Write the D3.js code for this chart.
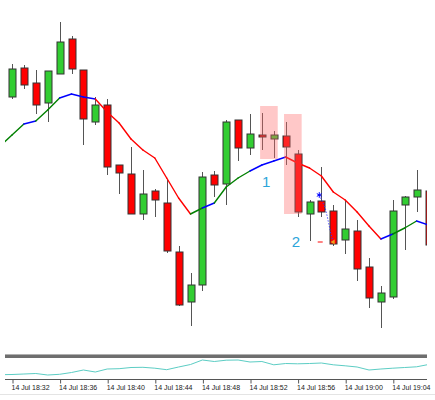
<!DOCTYPE html>
<html><head><meta charset="utf-8">
<script src="https://cdn.jsdelivr.net/npm/d3@7"></script>
<style>html,body{margin:0;padding:0;background:#fff;}svg{display:block;}</style>
</head><body>
<svg id="c" width="435" height="400"></svg>
<script>
// ---- data (1-minute candles, 14 Jul 18:32 .. 19:07) ----
const times = ["18:32","18:33","18:34","18:35","18:36","18:37","18:38","18:39","18:40","18:41","18:42","18:43",
  "18:44","18:45","18:46","18:47","18:48","18:49","18:50","18:51","18:52","18:53","18:54","18:55",
  "18:56","18:57","18:58","18:59","19:00","19:01","19:02","19:03","19:04","19:05","19:06","19:07"];
const open  = [1.36903,1.36932,1.36917,1.36897,1.36926,1.36961,1.36930,1.36878,1.36895,1.36835,1.36826,1.36786,
  1.36809,1.36797,1.36748,1.36698,1.36715,1.36825,1.36816,1.36880,1.36852,1.36865,1.36861,1.36864,
  1.36846,1.36786,1.36799,1.36789,1.36760,1.36769,1.36733,1.36698,1.36703,1.36795,1.36803,1.36809];
const high  = [1.36936,1.36935,1.36930,1.36929,1.36978,1.36964,1.36930,1.36903,1.36901,1.36835,1.36853,1.36830,
  1.36811,1.36820,1.36754,1.36727,1.36828,1.36829,1.36880,1.36880,1.36886,1.36887,1.36869,1.36878,
  1.36850,1.36800,1.36833,1.36795,1.36800,1.36780,1.36742,1.36714,1.36800,1.36804,1.36830,1.36815];
const low   = [1.36901,1.36911,1.36886,1.36878,1.36926,1.36926,1.36855,1.36875,1.36825,1.36806,1.36786,1.36780,
  1.36783,1.36747,1.36694,1.36674,1.36709,1.36803,1.36795,1.36839,1.36845,1.36850,1.36842,1.36835,
  1.36783,1.36759,1.36783,1.36754,1.36746,1.36719,1.36692,1.36672,1.36701,1.36750,1.36788,1.36754];
const close = [1.36931,1.36915,1.36895,1.36929,1.36958,1.36931,1.36881,1.36895,1.36833,1.36827,1.36786,1.36806,
  1.36800,1.36749,1.36695,1.36715,1.36823,1.36815,1.36878,1.36852,1.36866,1.36863,1.36865,1.36853,
  1.36788,1.36798,1.36788,1.36756,1.36771,1.36731,1.36702,1.36707,1.36789,1.36803,1.36810,1.36755];
// moving average, first value belongs to 18:31 (candle before the window)
const ma = [1.36854,1.36865,1.36876,1.36879,1.36890,1.36902,1.36906,1.36903,1.36901,1.36888,1.36877,1.36861,
  1.36850,1.36842,1.36822,1.36802,1.36786,1.36792,1.36797,1.36813,1.36822,1.36829,1.36835,1.36839,
  1.36843,1.36837,1.36832,1.36824,1.36808,1.36800,1.36788,1.36774,1.36761,1.36766,1.36772,1.36779,1.36775];
// trend of each MA segment: u = up (green), f = flat (blue), d = down (red)
const maTrend = ["u","u","f","u","u","f","f","f","d","d","d","d","d","d","d","d","u","f","u","u","u","f","f","f",
  "d","d","d","d","d","d","d","d","f","u","u","f"];
// lower indicator, first value belongs to 18:31
const indicator = [4.3,4.5,5.0,5.5,4.0,4.7,6.5,9.0,7.0,10.0,10.3,11.5,11.7,10.8,9.3,12.0,14.5,19.0,17.5,18.8,19.0,
  17.0,17.5,14.2,15.5,15.2,15.5,16.0,14.2,13.2,12.0,9.0,10.0,10.8,11.5,12.2,14.5];
const tickIdx = [1,5,9,13,17,21,25,29,33];
const tickLabels = ["14 Jul 18:32","14 Jul 18:36","14 Jul 18:40","14 Jul 18:44","14 Jul 18:48",
  "14 Jul 18:52","14 Jul 18:56","14 Jul 19:00","14 Jul 19:04"];
// highlighted zones (candle index range, price range)
const zoneX0 = [21.85, 23.86], zoneX1 = [23.33, 25.34];
const zoneP0 = [1.36894, 1.36886], zoneP1 = [1.36841, 1.36786];
const noteText = ["1","2"], noteIdx = [22.35, 24.85], notePrice = [1.36819, 1.36759];
// trade marks: entry (star) -> exit (triangle), stop dash
const tradeIdx = [26.82, 27.3, 27.5, 27.78, 28.0], tradePrice = [1.36805, 1.36793, 1.36783, 1.36767, 1.36758];
const stopIdx = 26.9, stopPrice = 1.36758;

// ---- layout ----
const svg = d3.select("#c");
const L = 5, R = 427, PT = 0, PB = 352;
const x = d3.scaleLinear().domain([1, 36]).range([12, 428.5]);
const y = d3.scaleLinear().domain([1.37, 1.366]).range([0, 400]);
const yi = d3.scaleLinear().domain([0, 21]).range([379, 358]);
const bw = 7;

svg.append("clipPath").attr("id","clip").append("rect")
  .attr("x", L).attr("y", PT).attr("width", R - L).attr("height", PB - PT);
const plot = svg.append("g").attr("clip-path","url(#clip)");

const candles = times.map((t,i)=>({i:i+1,o:open[i],h:high[i],l:low[i],c:close[i]}));
const cg = plot.selectAll("g.cd").data(candles).join("g");
cg.append("line")
  .attr("x1", d=>Math.round(x(d.i))+0.5).attr("x2", d=>Math.round(x(d.i))+0.5)
  .attr("y1", d=>y(d.h)).attr("y2", d=>y(d.l))
  .attr("stroke","#555").attr("stroke-width",1);
cg.append("rect")
  .attr("x", d=>Math.round(x(d.i))-3+0.5-0.5).attr("width", bw)
  .attr("y", d=>y(Math.max(d.o,d.c))).attr("height", d=>Math.max(1.5, Math.abs(y(d.o)-y(d.c))))
  .attr("fill", d=>d.c>=d.o ? "#32cd32" : "#ff0000")
  .attr("stroke","#333").attr("stroke-width",1);

// MA segments
const trendCol = {u:"#008000", f:"#0000ff", d:"#ff0000"};
const line = d3.line().x(d=>x(d[0])).y(d=>y(d[1]));
maTrend.forEach((t,k)=>{
  plot.append("path").attr("d", line([[k, ma[k]],[k+1, ma[k+1]]]))
    .attr("fill","none").attr("stroke", trendCol[t]).attr("stroke-width",1.4)
    .attr("stroke-linecap","round");
});

// trade marks
plot.append("path").attr("d", d3.line().x((d,i)=>x(tradeIdx[i])).y((d,i)=>y(tradePrice[i]))(tradeIdx))
  .attr("fill","none").attr("stroke","#3030ff").attr("stroke-width",1).attr("stroke-dasharray","1.2,1.8");
plot.append("path").attr("d", d3.symbol(d3.symbolAsterisk, 22)())
  .attr("transform", `translate(${x(tradeIdx[0])},${y(tradePrice[0])})`)
  .attr("stroke","#0000ff").attr("stroke-width",1).attr("fill","none");
plot.append("path").attr("d", d3.symbol(d3.symbolTriangle, 10)())
  .attr("transform", `translate(${x(tradeIdx[4])},${y(tradePrice[4])}) rotate(-90)`)
  .attr("fill","#f0a020");
plot.append("line").attr("x1", x(stopIdx)-2.5).attr("x2", x(stopIdx)+2.5)
  .attr("y1", y(stopPrice)).attr("y2", y(stopPrice)).attr("stroke","#ff3030").attr("stroke-width",1.2);

// highlighted zones (semi-transparent overlay)
zoneX0.forEach((z,k)=>{
  plot.append("rect").attr("x", x(z)).attr("width", x(zoneX1[k])-x(z))
    .attr("y", y(zoneP0[k])).attr("height", y(zoneP1[k])-y(zoneP0[k]))
    .attr("fill","#ff6666").attr("opacity",0.36);
});
noteText.forEach((t,k)=>{
  plot.append("text").attr("x", x(noteIdx[k])).attr("y", y(notePrice[k]))
    .attr("text-anchor","middle").attr("dominant-baseline","central")
    .attr("font-family","Liberation Sans, Arial, sans-serif").attr("font-size",15)
    .attr("fill","#2ca5da").text(t);
});

// indicator panel
svg.append("line").attr("x1",L).attr("x2",R).attr("y1",354.5).attr("y2",354.5).attr("stroke","#b0b0b0");
svg.append("rect").attr("x",L).attr("width",R-L).attr("y",355).attr("height",3).attr("fill","#6e6e6e");
const ig = svg.append("g");
ig.append("path").attr("d", d3.line().x((d,i)=>x(i)).y(d=>yi(d))(indicator))
  .attr("fill","none").attr("stroke","#5ccdc4").attr("stroke-width",1)
  .attr("clip-path","url(#clip2)");
svg.append("clipPath").attr("id","clip2").append("rect").attr("x",L).attr("y",358).attr("width",R-L).attr("height",21);

// time axis
const axis = d3.axisBottom(x).tickValues(tickIdx).tickFormat((d,i)=>tickLabels[i]).tickSize(4).tickSizeOuter(0);
const ag = svg.append("g").attr("transform","translate(0,379.5)").call(axis);
ag.select(".domain").remove();
ag.selectAll(".tick line").attr("stroke","#555").attr("transform","translate(0.5,0)");
ag.selectAll(".tick text").attr("text-anchor","start").attr("dx",-1).attr("y",6)
  .attr("font-family","Liberation Sans, Arial, sans-serif").attr("font-size",7).attr("fill","#222");
svg.append("line").attr("x1",L).attr("x2",R).attr("y1",379.5).attr("y2",379.5).attr("stroke","#555");
svg.append("line").attr("x1",0).attr("x2",435).attr("y1",394.5).attr("y2",394.5).attr("stroke","#e4e4e4");
</script>
</body></html>
